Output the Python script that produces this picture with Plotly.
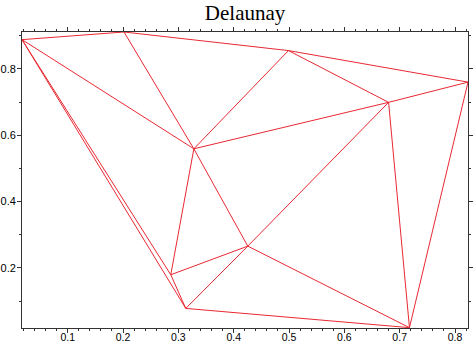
import plotly.graph_objects as go

# Points
px = [0.0174, 0.2018, 0.499, 0.8235, 0.680, 0.328, 0.4255, 0.2863, 0.3134, 0.7177]
py = [0.888, 0.911, 0.855, 0.760, 0.699, 0.559, 0.2657, 0.1795, 0.078, 0.020]
# Triangles (indices into points): A0 B1 C2 D3 E4 F5 G6 H7 I8 J9
triangles = [
    (0, 1, 5), (1, 2, 5), (2, 5, 4), (2, 4, 3),
    (5, 4, 6), (4, 6, 9), (4, 3, 9), (0, 5, 7),
    (5, 7, 6), (7, 6, 8), (6, 8, 9), (0, 7, 8),
]

edges = []
for t in triangles:
    for a, b in ((t[0], t[1]), (t[1], t[2]), (t[2], t[0])):
        e = (min(a, b), max(a, b))
        if e not in edges:
            edges.append(e)

lx, ly = [], []
for a, b in edges:
    lx += [px[a], px[b], None]
    ly += [py[a], py[b], None]

fig = go.Figure(go.Scatter(x=lx, y=ly, mode="lines",
                           line=dict(color="rgb(232,40,50)", width=1),
                           hoverinfo="skip", showlegend=False))

axis_common = dict(showgrid=False, zeroline=False, showline=True, linecolor="#333",
                   linewidth=1, mirror="allticks", ticks="outside", ticklen=4,
                   tickcolor="#333", tickwidth=1, automargin=False)
fig.update_xaxes(range=[min(px), max(px)], dtick=0.1, tick0=0,
                 ticklabelstandoff=-5,
                 tickfont=dict(family="Liberation Sans", size=10.5, color="black"),
                 minor=dict(ticks="outside", ticklen=2, dtick=0.02, tick0=0, tickcolor="#333"),
                 **axis_common)
fig.update_yaxes(range=[0.019, 0.911], dtick=0.2, tick0=0,
                 ticklabelstandoff=-1,
                 tickfont=dict(family="Liberation Sans", size=11, color="black"),
                 minor=dict(ticks="outside", ticklen=2, dtick=0.1, tick0=0, tickcolor="#333"),
                 **axis_common)

fig.update_layout(
    width=474, height=345,
    margin=dict(l=22, r=6, t=32, b=17),
    paper_bgcolor="white", plot_bgcolor="white",
    title=dict(text="Delaunay", x=0.517, xanchor="center", y=0.985, yanchor="top",
               font=dict(family="Liberation Serif", size=21, color="black")),
)
fig.write_html("out.html")
